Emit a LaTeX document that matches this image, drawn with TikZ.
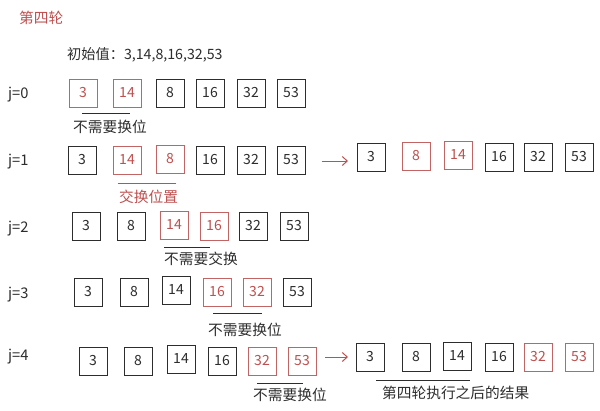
\documentclass[tikz,border=0pt]{standalone}
\usepackage{fontspec}
\setmainfont{Noto Sans CJK SC}
\usetikzlibrary{arrows.meta}
\definecolor{myred}{RGB}{190,80,80}
\definecolor{myboxred}{RGB}{195,100,100}
\definecolor{myblack}{RGB}{45,45,45}
\tikzset{
  box/.style={draw=myblack,line width=1pt,minimum width=28pt,minimum height=28pt,inner sep=0pt,text=myblack,font=\fontsize{14}{16}\selectfont},
  rbox/.style={box,draw=myboxred,text=myred},
  lbl/.style={anchor=west,inner sep=0pt,text=myblack,font=\fontsize{14.7}{17}\selectfont},
  rlbl/.style={lbl,text=myred},
  uline/.style={draw=myblack,line width=1pt},
  ruline/.style={draw=myred,line width=1pt},
  arr/.style={draw=myred,line width=1pt,-{Straight Barb[length=5pt,width=9pt]}}
}
\begin{document}
\begin{tikzpicture}[x=1pt,y=-1pt]
\useasboundingbox[fill=white] (0,0) rectangle (600,410);
% title
\node[rlbl,font=\fontsize{14.7}{17}\selectfont] (title) at (19,18) {第四轮};
\node[lbl,font=\fontsize{14.2}{16}\selectfont] (init) at (67,55) {初始值：3,14,8,16,32,53};
% j labels
\node[lbl] (j0) at (8,95) {j=0};
\node[lbl] (j1) at (8,162) {j=1};
\node[lbl] (j2) at (8,229) {j=2};
\node[lbl] (j3) at (8,295) {j=3};
\node[lbl] (j4) at (8,357) {j=4};
% row j=0
\node[rbox] (a1) at (83,93) {3};
\node[rbox] (a2) at (127,93) {14};
\node[box] (a3) at (170,93) {8};
\node[box] (a4) at (210,93) {16};
\node[box] (a5) at (251,93) {32};
\node[box] (a6) at (291,93) {53};
\coordinate (u0s) at (82,113); \coordinate (u0e) at (130,113);
\draw[uline] (u0s) -- (u0e);
\node[lbl] (t0) at (73,127) {不需要换位};
% row j=1
\node[box] (b1) at (82,160) {3};
\node[rbox] (b2) at (127,160) {14};
\node[rbox] (b3) at (170,159) {8};
\node[box] (b4) at (210,160) {16};
\node[box] (b5) at (251,160) {32};
\node[box] (b6) at (291,160) {53};
\coordinate (u1s) at (118,183); \coordinate (u1e) at (176,183);
\draw[ruline] (u1s) -- (u1e);
\node[rlbl] (t1) at (119,197) {交换位置};
% result of j=1
\node[box] (c1) at (371,157) {3};
\node[rbox] (c2) at (416,156) {8};
\node[rbox] (c3) at (458,155) {14};
\node[box] (c4) at (499,157) {16};
\node[box] (c5) at (538,157) {32};
\node[box] (c6) at (579,157) {53};
\coordinate (ar1s) at (322,161); \coordinate (ar1e) at (348,161);
\draw[arr] (ar1s) -- (ar1e);
% row j=2
\node[box] (d1) at (86,226) {3};
\node[box] (d2) at (131,226) {8};
\node[rbox] (d3) at (174,225) {14};
\node[rbox] (d4) at (214,226) {16};
\node[box] (d5) at (253,226) {32};
\node[box] (d6) at (294,226) {53};
\coordinate (u2s) at (164,247); \coordinate (u2e) at (210,247);
\draw[uline] (u2s) -- (u2e);
\node[lbl] (t2) at (164,259) {不需要交换};
% row j=3
\node[box] (e1) at (88,292) {3};
\node[box] (e2) at (134,292) {8};
\node[box] (e3) at (176,290) {14};
\node[rbox] (e4) at (217,292) {16};
\node[rbox] (e5) at (257,292) {32};
\node[box] (e6) at (297,292) {53};
\coordinate (u3s) at (213,313); \coordinate (u3e) at (262,313);
\draw[uline] (u3s) -- (u3e);
\node[lbl] (t3) at (208,330) {不需要换位};
% row j=4
\node[box] (f1) at (93,361) {3};
\node[box] (f2) at (138,361) {8};
\node[box] (f3) at (181,359) {14};
\node[box] (f4) at (222,361) {16};
\node[rbox] (f5) at (262,361) {32};
\node[rbox] (f6) at (302,361) {53};
\coordinate (u4s) at (257,383); \coordinate (u4e) at (303,383);
\draw[uline] (u4s) -- (u4e);
\node[lbl] (t4) at (253,395) {不需要换位};
\coordinate (ar2s) at (325,357); \coordinate (ar2e) at (348,357);
\draw[arr] (ar2s) -- (ar2e);
% final result
\node[box] (g1) at (370,357) {3};
\node[box] (g2) at (416,357) {8};
\node[box] (g3) at (457,356) {14};
\node[box] (g4) at (499,357) {16};
\node[rbox] (g5) at (538,357) {32};
\node[rbox] (g6) at (579,357) {53};
\coordinate (u5s) at (376,380); \coordinate (u5e) at (470,380);
\draw[uline] (u5s) -- (u5e);
\node[lbl] (t5) at (382,393) {第四轮执行之后的结果};
\end{tikzpicture}
\end{document}
